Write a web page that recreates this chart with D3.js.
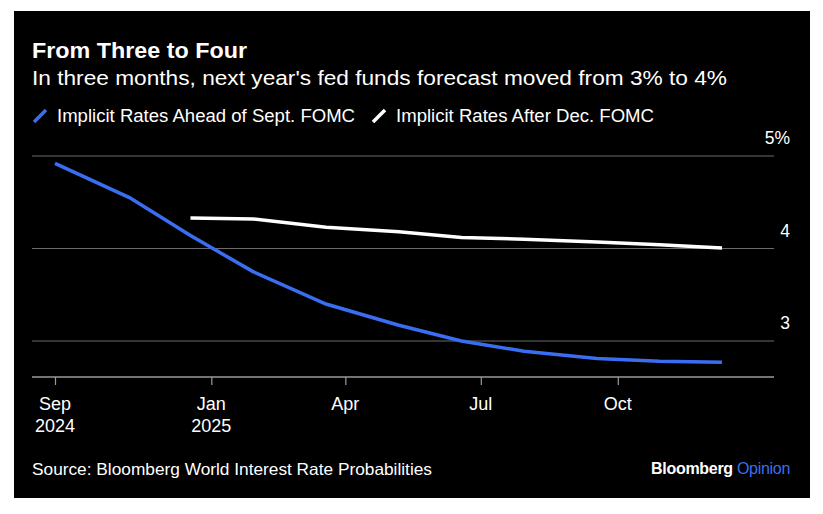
<!DOCTYPE html>
<html>
<head>
<meta charset="utf-8">
<script src="https://cdn.jsdelivr.net/npm/d3@7"></script>
<style>
  body { margin: 0; background: #fff; }
  svg { display: block; font-family: "Liberation Sans", Arial, sans-serif; }
</style>
</head>
<body>
<div id="container"></div>
<script>
/* DATA */
const meetingDates = ["2024-09-18", "2024-11-07", "2024-12-18", "2025-01-29", "2025-03-19",
  "2025-05-07", "2025-06-18", "2025-07-30", "2025-09-17", "2025-10-29", "2025-12-10"];
const septRates = [4.92, 4.55, 4.14, 3.75, 3.40, 3.17, 3.00, 2.89, 2.81, 2.78, 2.77];
const decRates = [null, null, 4.33, 4.32, 4.23, 4.18, 4.12, 4.10, 4.07, 4.04, 4.005];
const yTicks = [3, 4, 5];
const xTicks = ["2024-09-18", "2025-01-01", "2025-04-01", "2025-07-01", "2025-10-01"];
const xTickLabels = [["Sep", "2024"], ["Jan", "2025"], ["Apr"], ["Jul"], ["Oct"]];
const seriesNames = ["Implicit Rates Ahead of Sept. FOMC", "Implicit Rates After Dec. FOMC"];

/* CONSTANTS */
const width = 823;
const height = 514;
const blue = "#3a6ef2";
const parse = d3.utcParse("%Y-%m-%d");

const svg = d3.select("#container")
  .append("svg")
  .attr("width", width)
  .attr("height", height);

// black panel
svg.append("rect")
  .attr("x", 14).attr("y", 11)
  .attr("width", 796).attr("height", 487)
  .attr("fill", "#000");

/* SCALES */
const xScale = d3.scaleUtc()
  .domain([parse("2024-09-18"), parse("2025-12-10")])
  .range([55, 722]);

const yScale = d3.scaleLinear()
  .domain([3, 5])
  .range([341, 156]);

// gridlines
svg.append("g")
  .selectAll("line")
  .data(yTicks)
  .join("line")
  .attr("x1", 32).attr("x2", 774)
  .attr("y1", d => yScale(d)).attr("y2", d => yScale(d))
  .attr("stroke", "#6b6b6b")
  .attr("stroke-width", 1.2);

// y labels
svg.append("g")
  .selectAll("text")
  .data(yTicks)
  .join("text")
  .attr("x", 790)
  .attr("y", d => yScale(d) - 12)
  .attr("text-anchor", "end")
  .attr("fill", "#fff")
  .attr("font-size", 17.5)
  .text(d => d === 5 ? d + "%" : d);

// x axis
const xAxis = d3.axisBottom(xScale)
  .tickValues(xTicks.map(parse))
  .tickSize(8)
  .tickFormat("");

const xg = svg.append("g")
  .attr("transform", "translate(0, 377)")
  .call(xAxis);
xg.select(".domain").remove();
xg.selectAll(".tick line").attr("stroke", "#9a9a9a").attr("stroke-width", 1.2);
xg.insert("line", ":first-child")
  .attr("x1", 32).attr("x2", 774)
  .attr("stroke", "#9a9a9a").attr("stroke-width", 1.5);

const tickText = svg.append("g")
  .selectAll("text")
  .data(xTicks)
  .join("text")
  .attr("x", d => xScale(parse(d)))
  .attr("y", 410)
  .attr("text-anchor", "middle")
  .attr("fill", "#fff")
  .attr("font-size", 18);
tickText.each(function(d, i) {
  d3.select(this).selectAll("tspan")
    .data(xTickLabels[i])
    .join("tspan")
    .attr("x", xScale(parse(d)))
    .attr("dy", (t, j) => j === 0 ? 0 : 22)
    .text(t => t);
});

/* LINES */
const line = d3.line()
  .defined(d => d[1] != null)
  .x(d => xScale(parse(d[0])))
  .y(d => yScale(d[1]));

svg.append("path")
  .datum(meetingDates.map((d, i) => [d, decRates[i]]))
  .attr("d", line)
  .attr("fill", "none")
  .attr("stroke", "#fff")
  .attr("stroke-width", 3.5);

svg.append("path")
  .datum(meetingDates.map((d, i) => [d, septRates[i]]))
  .attr("d", line)
  .attr("fill", "none")
  .attr("stroke", blue)
  .attr("stroke-width", 3.5);

/* TEXT */
svg.append("text")
  .attr("x", 32).attr("y", 58)
  .attr("fill", "#fff")
  .attr("font-size", 22)
  .attr("font-weight", "bold")
  .attr("textLength", 215)
  .attr("lengthAdjust", "spacingAndGlyphs")
  .text("From Three to Four");

svg.append("text")
  .attr("x", 32).attr("y", 85)
  .attr("fill", "#fff")
  .attr("font-size", 20.5)
  .attr("textLength", 695)
  .attr("lengthAdjust", "spacingAndGlyphs")
  .text("In three months, next year's fed funds forecast moved from 3% to 4%");

// legend
const legendX = [33, 372];
const legendW = [298, 258];
const legendColors = [blue, "#fff"];
seriesNames.forEach((name, i) => {
  svg.append("line")
    .attr("x1", legendX[i] + 1).attr("y1", 122)
    .attr("x2", legendX[i] + 13).attr("y2", 110)
    .attr("stroke", legendColors[i])
    .attr("stroke-width", 3.5);
  svg.append("text")
    .attr("x", legendX[i] + 24).attr("y", 122)
    .attr("fill", "#fff")
    .attr("font-size", 17.5)
    .attr("textLength", legendW[i])
    .attr("lengthAdjust", "spacingAndGlyphs")
    .text(name);
});

svg.append("text")
  .attr("x", 32).attr("y", 475)
  .attr("fill", "#fff")
  .attr("font-size", 16.5)
  .attr("textLength", 400)
  .attr("lengthAdjust", "spacingAndGlyphs")
  .text("Source: Bloomberg World Interest Rate Probabilities");

const brand = svg.append("text")
  .attr("x", 790).attr("y", 474)
  .attr("text-anchor", "end")
  .attr("font-size", 16)
  .attr("font-weight", "bold")
  .attr("letter-spacing", -0.3);
brand.append("tspan").attr("fill", "#fff").text("Bloomberg ");
brand.append("tspan").attr("fill", blue).attr("font-weight", "normal").text("Opinion");
</script>
</body>
</html>
